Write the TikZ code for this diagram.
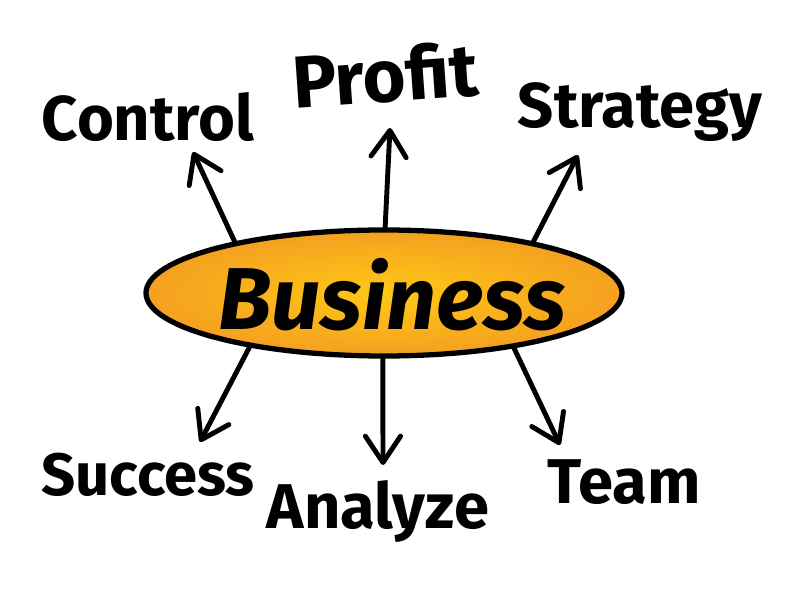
\documentclass[tikz,border=0pt]{standalone}
\usepackage{fontspec}
\setmainfont{Fira Sans}
\usetikzlibrary{arrows.meta, shapes.geometric}
\definecolor{busyellow}{RGB}{255,200,22}
\definecolor{busorange}{RGB}{244,160,32}

\begin{document}
\begin{tikzpicture}[x=0.2mm, y=-0.2mm,
    lbl/.style={font=\fontsize{36}{40}\selectfont\bfseries, inner sep=0pt},
    arr/.style={line width=2.8pt, line cap=round, -{Straight Barb[length=15pt, width=20pt, round]}}]
            \useasboundingbox (0,0) rectangle (800,600);
            \node[ellipse, draw, line width=3pt, inner sep=0pt, minimum width=476*0.2mm, minimum height=126*0.2mm,
                  inner color=busyellow, outer color=busorange] (business) at (384,293) {};
            \node[font=\fontsize{50}{56}\selectfont\bfseries\itshape] (businesstext) at (392,295) {Business};
            \node[lbl] (control) at (148,117) {Control};
            \node[lbl, font=\fontsize{42}{46}\selectfont\bfseries, rotate=4] (profit) at (385,75) {Profit};
            \node[lbl] (strategy) at (640,112) {Strategy};
            \node[lbl, font=\fontsize{34}{40}\selectfont\bfseries] (success) at (148,475) {Success};
            \node[lbl] (analyze) at (378,512) {Analyze};
            \node[lbl] (team) at (624,482) {Team};
            \coordinate (controltip) at (193,152);
            \coordinate (profittip) at (390,128);
            \coordinate (strategytip) at (578,155);
            \coordinate (successtip) at (200,442);
            \coordinate (analyzetip) at (383,465);
            \coordinate (teamtip) at (560,445);
            \draw[arr] (business.161) -- (controltip);
            \draw[arr] (business.89) -- (profittip);
            \draw[arr] (business.19) -- (strategytip);
            \draw[arr] (business.202) -- (successtip);
            \draw[arr] (business.269) -- (analyzetip);
            \draw[arr] (business.337) -- (teamtip);
        \end{tikzpicture}
\end{document}
